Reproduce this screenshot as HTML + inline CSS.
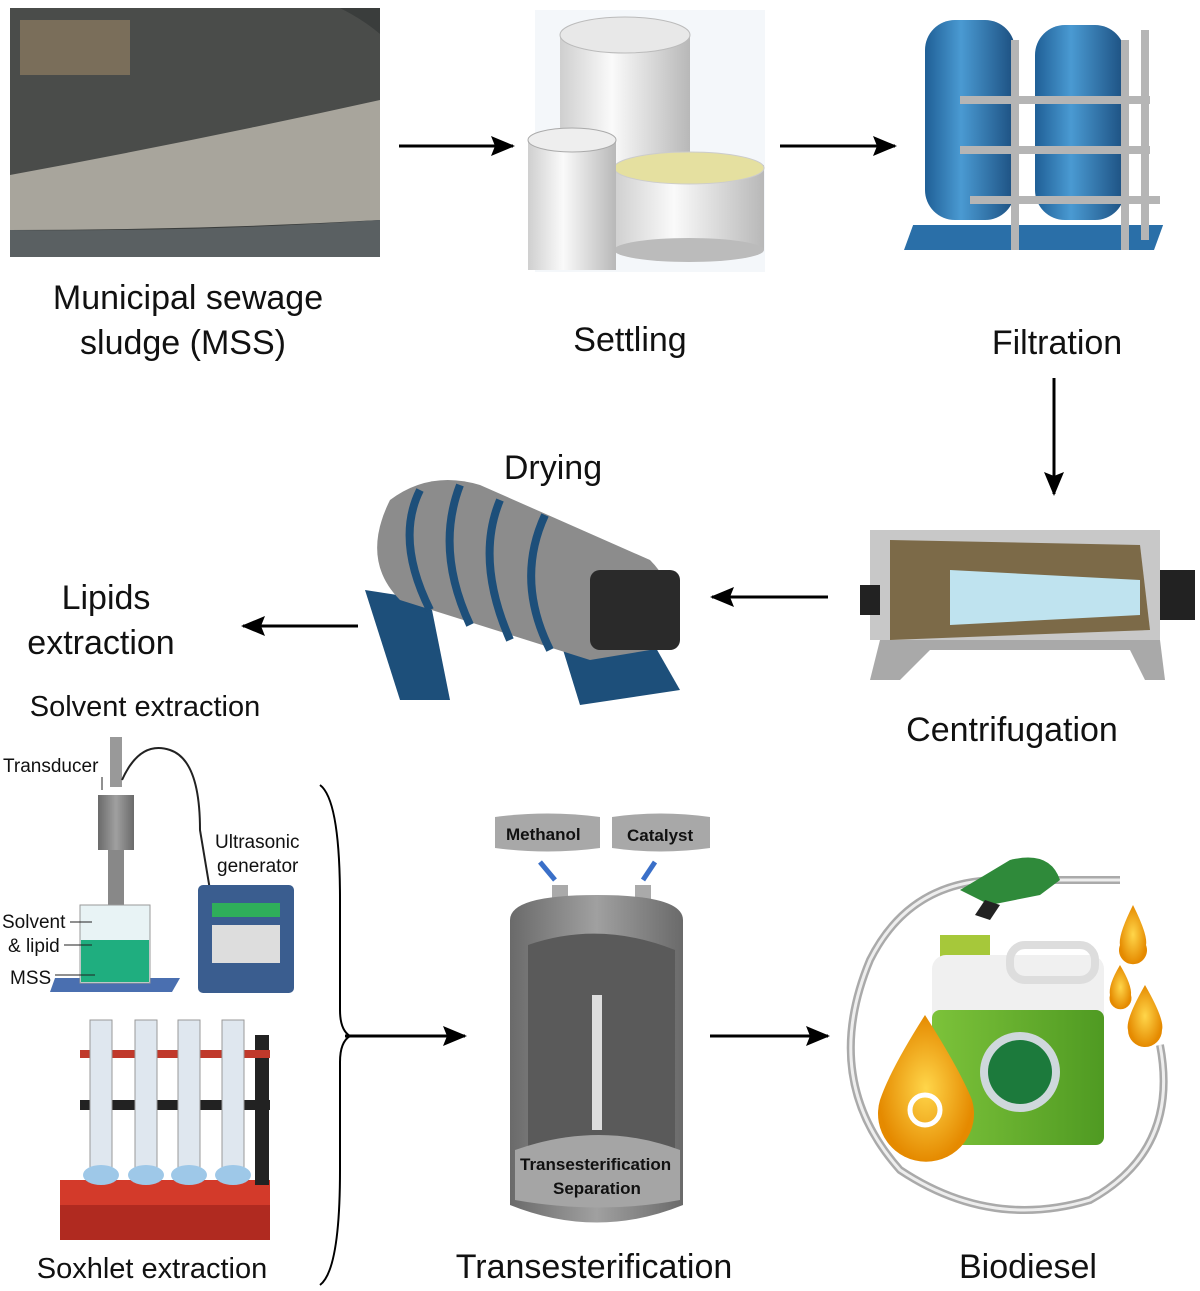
<!DOCTYPE html>
<html><head><meta charset="utf-8"><style>
body{margin:0;background:#fff;width:1200px;height:1291px;position:relative;overflow:hidden;font-family:"Liberation Sans",sans-serif;color:#111}
.t{position:absolute;font-size:34px;text-align:center;white-space:nowrap;transform:translateX(-50%)}
.s{position:absolute;font-size:19px;white-space:nowrap}
svg{position:absolute;left:0;top:0}
</style></head><body>
<svg width="1200" height="1291" viewBox="0 0 1200 1291">
<defs>
<clipPath id="cp"><rect x="10" y="8" width="370" height="249"/></clipPath>
<marker id="a2" markerWidth="24" markerHeight="20" refX="22" refY="10" orient="auto" markerUnits="userSpaceOnUse"><path d="M0,0 L24,10 L0,20 L4,10 z" fill="#000"/></marker>
<linearGradient id="cyl" x1="0" x2="1"><stop offset="0" stop-color="#cfcfcf"/><stop offset=".4" stop-color="#fafafa"/><stop offset="1" stop-color="#b8b8b8"/></linearGradient>
<linearGradient id="blue" x1="0" x2="1"><stop offset="0" stop-color="#1f5f96"/><stop offset=".4" stop-color="#4a9ad2"/><stop offset="1" stop-color="#1c4f80"/></linearGradient>
<linearGradient id="grey" x1="0" x2="1"><stop offset="0" stop-color="#6a6a6a"/><stop offset=".5" stop-color="#a0a0a0"/><stop offset="1" stop-color="#6a6a6a"/></linearGradient>
<linearGradient id="grn" x1="0" x2="1"><stop offset="0" stop-color="#7cc23a"/><stop offset="1" stop-color="#4f9a22"/></linearGradient>
<radialGradient id="oil"><stop offset="0" stop-color="#ffd64a"/><stop offset="1" stop-color="#e58a00"/></radialGradient>
</defs>
<g clip-path="url(#cp)">
<rect x="10" y="8" width="370" height="249" fill="#3a3d3c"/>
<ellipse cx="150" cy="90" rx="260" ry="120" fill="#4a4c4a"/>
<path d="M10,175 Q200,140 380,100 L380,220 Q200,230 10,230 Z" fill="#a8a59c"/>
<path d="M10,230 Q200,232 380,220 L380,257 L10,257 Z" fill="#5a6062"/>
<rect x="20" y="20" width="110" height="55" fill="#7a6e5a"/>
</g>
<rect x="535" y="10" width="230" height="262" fill="#f4f7fa"/>
<rect x="560" y="35" width="130" height="170" fill="url(#cyl)"/><ellipse cx="625" cy="35" rx="65" ry="18" fill="#e8e8e8" stroke="#bbb"/>
<rect x="614" y="165" width="150" height="85" fill="url(#cyl)"/><ellipse cx="689" cy="250" rx="75" ry="12" fill="#bbb"/><ellipse cx="689" cy="168" rx="75" ry="16" fill="#e5e0a0" stroke="#ccc"/>
<rect x="528" y="140" width="88" height="130" fill="url(#cyl)"/><ellipse cx="572" cy="140" rx="44" ry="12" fill="#eee" stroke="#aaa"/>
<rect x="905" y="225" width="250" height="25" fill="#2a6fa8" transform="skewX(-20) translate(90,0)"/>
<rect x="925" y="20" width="90" height="200" rx="30" fill="url(#blue)"/>
<rect x="1035" y="25" width="90" height="195" rx="30" fill="url(#blue)"/>
<g stroke="#b5b5b5" stroke-width="8" fill="none"><path d="M960,100 H1150 M960,150 H1150 M970,200 H1160 M1015,40 V250 M1125,40 V250 M1145,30 V240"/></g>
<line x1="399" y1="146" x2="513" y2="146" stroke="#000" stroke-width="3" marker-end="url(#a2)"/>
<line x1="780" y1="146" x2="895" y2="146" stroke="#000" stroke-width="3" marker-end="url(#a2)"/>
<line x1="1054" y1="378" x2="1054" y2="494" stroke="#000" stroke-width="3" marker-end="url(#a2)"/>
<line x1="828" y1="597" x2="712" y2="597" stroke="#000" stroke-width="3" marker-end="url(#a2)"/>
<line x1="358" y1="626" x2="243" y2="626" stroke="#000" stroke-width="3" marker-end="url(#a2)"/>
<line x1="345" y1="1036" x2="465" y2="1036" stroke="#000" stroke-width="3" marker-end="url(#a2)"/>
<line x1="710" y1="1036" x2="828" y2="1036" stroke="#000" stroke-width="3" marker-end="url(#a2)"/>
<path d="M365,590 L400,700 L450,700 L430,600 Z" fill="#1d4f7a"/>
<path d="M560,640 L580,705 L680,690 L640,620 Z" fill="#1d4f7a"/>
<path d="M390,500 Q430,470 480,485 L650,560 Q690,600 650,650 L590,660 L400,600 Q360,560 390,500 Z" fill="#8c8c8c"/>
<g stroke="#1d4f7a" stroke-width="8" fill="none"><path d="M420,490 Q395,540 430,610 M460,485 Q435,550 470,625 M500,500 Q475,560 510,640 M545,515 Q515,580 550,650"/></g>
<rect x="590" y="570" width="90" height="80" rx="10" fill="#2a2a2a"/>
<rect x="870" y="530" width="290" height="110" fill="#c8c8c8"/>
<path d="M890,540 L1140,545 L1150,630 L890,640 Z" fill="#7c6a48"/>
<path d="M950,570 L1140,580 L1140,615 L950,625 Z" fill="#bfe3ef"/>
<rect x="860" y="585" width="20" height="30" fill="#222"/><rect x="1160" y="570" width="35" height="50" fill="#222"/>
<path d="M880,640 L870,680 L900,680 L930,650 L1130,650 L1145,680 L1165,680 L1160,640 Z" fill="#a9a9a9"/>
<rect x="110" y="737" width="12" height="50" fill="#999"/>
<rect x="98" y="795" width="36" height="55" fill="url(#grey)"/>
<rect x="108" y="850" width="16" height="60" fill="#888"/>
<path d="M122,780 Q140,740 170,750 Q200,760 200,830 L210,890" stroke="#222" stroke-width="2" fill="none"/>
<rect x="198" y="885" width="96" height="108" rx="5" fill="#3a5d8f"/>
<rect x="212" y="903" width="68" height="14" fill="#2fae5a"/>
<rect x="212" y="925" width="68" height="38" fill="#ddd"/>
<path d="M55,978 L180,978 L172,992 L50,992 Z" fill="#4a6fb0"/>
<rect x="80" y="905" width="70" height="78" fill="#e8f3f5" stroke="#999"/>
<rect x="81" y="940" width="68" height="42" fill="#1fae7f"/>
<g stroke="#222" stroke-width="1"><line x1="70" y1="922" x2="92" y2="922"/><line x1="64" y1="945" x2="92" y2="945"/><line x1="55" y1="975" x2="95" y2="975"/><line x1="102" y1="777" x2="102" y2="790"/></g>
<rect x="60" y="1180" width="210" height="60" fill="#d33a2a"/>
<rect x="60" y="1205" width="210" height="35" fill="#b02a20"/>
<rect x="255" y="1035" width="14" height="150" fill="#222"/>
<rect x="80" y="1050" width="190" height="8" fill="#c0392b"/>
<rect x="80" y="1100" width="190" height="10" fill="#222"/>
<g fill="#dfe7ef" stroke="#999"><rect x="90" y="1020" width="22" height="160"/><rect x="135" y="1020" width="22" height="160"/><rect x="178" y="1020" width="22" height="160"/><rect x="222" y="1020" width="22" height="160"/></g>
<g fill="#9ec8e8"><ellipse cx="101" cy="1175" rx="18" ry="10"/><ellipse cx="146" cy="1175" rx="18" ry="10"/><ellipse cx="189" cy="1175" rx="18" ry="10"/><ellipse cx="233" cy="1175" rx="18" ry="10"/></g>
<path d="M320,785 Q340,800 340,900 L340,1010 Q340,1030 350,1036 Q340,1042 340,1062 L340,1170 Q340,1270 320,1285" stroke="#000" stroke-width="2" fill="none"/>
<path d="M495,817 Q548,810 600,817 L600,848 Q548,855 495,848 Z" fill="#a8a8a8"/>
<path d="M612,817 Q660,810 710,817 L710,848 Q660,855 612,848 Z" fill="#a8a8a8"/>
<g stroke="#3a6fc8" stroke-width="5"><line x1="540" y1="862" x2="555" y2="880"/><line x1="655" y1="862" x2="643" y2="880"/></g>
<rect x="552" y="885" width="16" height="18" fill="#aaa"/><rect x="635" y="885" width="16" height="18" fill="#aaa"/>
<path d="M510,920 Q510,895 597,895 Q683,895 683,920 L683,1205 Q597,1240 510,1205 Z" fill="url(#grey)"/>
<path d="M528,945 Q600,920 675,950 L675,1160 Q600,1140 528,1160 Z" fill="#5a5a5a"/>
<path d="M515,1150 Q600,1120 680,1150 L680,1200 Q600,1215 515,1200 Z" fill="#a5a5a5"/>
<rect x="592" y="995" width="10" height="135" fill="#ddd"/>
<path d="M1160,1045 Q1180,1150 1090,1200 Q990,1230 900,1170 Q820,1080 870,960 Q910,880 1000,880 L1120,880" stroke="#aaa" stroke-width="8" fill="none"/>
<path d="M1160,1045 Q1180,1150 1090,1200 Q990,1230 900,1170 Q820,1080 870,960 Q910,880 1000,880 L1120,880" stroke="#eee" stroke-width="3" fill="none"/>
<path d="M960,890 L1010,860 Q1050,850 1060,880 L1040,895 L990,905 Z" fill="#2f8a3a"/>
<path d="M985,900 L975,915 L990,920 L1000,905 Z" fill="#222"/>
<rect x="940" y="935" width="50" height="25" fill="#a6c83a"/>
<rect x="932" y="955" width="172" height="190" rx="14" fill="#f0f0f0"/>
<rect x="932" y="1010" width="172" height="135" rx="8" fill="url(#grn)"/>
<rect x="1010" y="945" width="85" height="35" rx="15" fill="none" stroke="#ddd" stroke-width="8"/>
<circle cx="1020" cy="1072" r="40" fill="#cfd8dc"/><circle cx="1020" cy="1072" r="32" fill="#1c7a3c"/>
<path d="M925,1015 Q890,1070 880,1100 A48,48 0 1 0 972,1100 Q960,1070 925,1015 Z" fill="url(#oil)"/>
<circle cx="925" cy="1110" r="15" fill="none" stroke="#fff" stroke-width="5"/>
<g fill="url(#oil)"><path d="M1133,905 Q1118,935 1120,945 A14,14 0 1 0 1146,945 Q1148,935 1133,905Z"/><path d="M1120,965 Q1108,985 1110,995 A11,11 0 1 0 1131,995 Q1132,985 1120,965Z"/><path d="M1145,985 Q1125,1020 1128,1030 A17,17 0 1 0 1162,1030 Q1165,1020 1145,985Z"/></g>
</svg>
<div class="t" style="left:188px;top:279px">Municipal sewage</div>
<div class="t" style="left:183px;top:324px">sludge (MSS)</div>
<div class="t" style="left:630px;top:321px">Settling</div>
<div class="t" style="left:1057px;top:324px">Filtration</div>
<div class="t" style="left:553px;top:449px">Drying</div>
<div class="t" style="left:106px;top:579px">Lipids</div>
<div class="t" style="left:101px;top:624px">extraction</div>
<div class="t" style="left:1012px;top:711px">Centrifugation</div>
<div class="t" style="left:145px;top:691px;font-size:29px">Solvent extraction</div>
<div class="t" style="left:152px;top:1253px;font-size:29px">Soxhlet extraction</div>
<div class="t" style="left:594px;top:1248px">Transesterification</div>
<div class="t" style="left:1028px;top:1248px">Biodiesel</div>
<div class="s" style="left:3px;top:756px">Transducer</div>
<div class="s" style="left:215px;top:832px">Ultrasonic</div>
<div class="s" style="left:217px;top:856px">generator</div>
<div class="s" style="left:2px;top:912px">Solvent</div>
<div class="s" style="left:8px;top:936px">&amp; lipid</div>
<div class="s" style="left:10px;top:968px">MSS</div>
<div class="s" style="left:506px;top:825px;font-weight:bold;font-size:17px">Methanol</div>
<div class="s" style="left:627px;top:826px;font-weight:bold;font-size:17px">Catalyst</div>
<div class="s" style="left:520px;top:1155px;font-weight:bold;font-size:17px">Transesterification</div>
<div class="s" style="left:553px;top:1179px;font-weight:bold;font-size:17px">Separation</div>
</body></html>
